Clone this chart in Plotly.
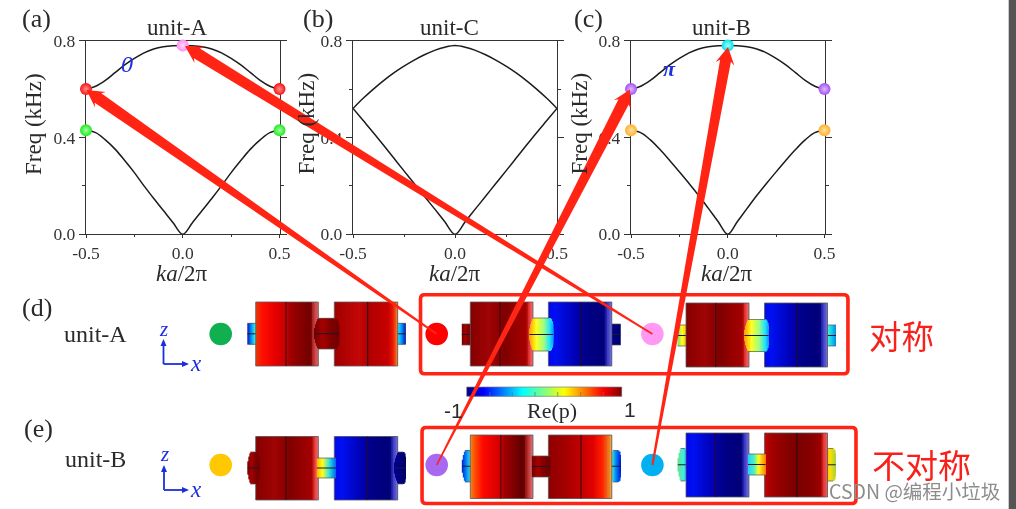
import plotly.graph_objects as go

W, H = 1016, 509

# ---------- data ----------
ka = [-0.5, -0.45, -0.4, -0.35, -0.3, -0.25, -0.2, -0.15, -0.1, -0.05, 0.0,
      0.05, 0.1, 0.15, 0.2, 0.25, 0.3, 0.35, 0.4, 0.45, 0.5]
a_upper = [0.60, 0.612, 0.636, 0.668, 0.70, 0.727, 0.75, 0.766, 0.775, 0.779, 0.78,
           0.779, 0.775, 0.766, 0.75, 0.727, 0.70, 0.668, 0.636, 0.612, 0.60]
a_lower = [0.43, 0.42, 0.39, 0.352, 0.305, 0.255, 0.20, 0.148, 0.098, 0.048, 0.0,
           0.048, 0.098, 0.148, 0.20, 0.255, 0.305, 0.352, 0.39, 0.42, 0.43]
b_upper = [0.52, 0.562, 0.60, 0.635, 0.667, 0.695, 0.72, 0.742, 0.76, 0.773, 0.78,
           0.773, 0.76, 0.742, 0.72, 0.695, 0.667, 0.635, 0.60, 0.562, 0.52]
b_lower = [0.52, 0.47, 0.42, 0.368, 0.315, 0.262, 0.21, 0.157, 0.105, 0.052, 0.0,
           0.052, 0.105, 0.157, 0.21, 0.262, 0.315, 0.368, 0.42, 0.47, 0.52]
c_upper = [0.60, 0.612, 0.636, 0.668, 0.70, 0.727, 0.75, 0.766, 0.775, 0.779, 0.78,
           0.779, 0.775, 0.766, 0.75, 0.727, 0.70, 0.668, 0.636, 0.612, 0.60]
c_lower = [0.43, 0.42, 0.39, 0.35, 0.305, 0.258, 0.21, 0.16, 0.107, 0.053, 0.0,
           0.053, 0.107, 0.16, 0.21, 0.258, 0.305, 0.35, 0.39, 0.42, 0.43]
dot_x = [-0.5, 0.5, 0.0]
b_tick_vals = [0.0, 0.4, 0.8]
x_tick_vals = [-0.5, 0.0, 0.5]
x_tick_text = ["-0.5", "0.0", "0.5"]
y_tick_text = ["0.0", "0.4", "0.8"]
panel_titles = ["unit-A", "unit-C", "unit-B"]

INK = "#333333"
RED = "#ff2414"
BLUEINK = "#1c2de0"
SERIF = "Liberation Serif"
CJK = "Noto Sans CJK SC"


def px(x):
    return x / W


def py(y):
    return 1 - y / H


fig = go.Figure()
shapes = []
notes = []

# ---------- panels ----------
panels = [
    (86.0, 279.5, a_upper, a_lower, ("#f81010", "#22e822", "#ff8cf0"), ("#ff9090", "#a0ffa0", "#ffd8ff")),
    (353.0, 557.0, b_upper, b_lower, None, None),
    (631.0, 824.5, c_upper, c_lower, ("#a452f2", "#ffb030", "#00e2ee"), ("#dcb8ff", "#ffe0a0", "#a0ffff")),
]
layout_axes = {}
for i, (x0, x1, up, lo, cols, cores) in enumerate(panels):
    n = "" if i == 0 else str(i + 1)
    xa, ya = "x" + n, "y" + n
    for curve in (up, lo):
        fig.add_trace(go.Scatter(x=ka, y=curve, xaxis=xa, yaxis=ya, mode="lines",
                                 line=dict(color="#1c1c1c", width=1.5, shape="spline", smoothing=1.0),
                                 showlegend=False, hoverinfo="skip"))
    if cols:
        vals = [(dot_x[:2], up[0], 0), (dot_x[:2], lo[0], 1), ([dot_x[2]], up[10], 2)]
        for xs, v, k in vals:
            fig.add_trace(go.Scatter(x=xs, y=[v] * len(xs), xaxis=xa, yaxis=ya, mode="markers",
                                     marker=dict(size=12, color=cols[k], line=dict(width=0),
                                                 gradient=dict(type="radial", color=cores[k])),
                                     cliponaxis=False, showlegend=False, hoverinfo="skip"))
    tick_font = dict(family=SERIF, size=17.5, color=INK)
    layout_axes["xaxis" + n] = dict(domain=[px(x0), px(x1)], range=[-0.5, 0.5], anchor=ya, layer="below traces",
                                    tickvals=x_tick_vals, ticktext=x_tick_text, ticks="outside",
                                    ticklen=3, tickwidth=1.2, tickcolor=INK, linecolor=INK, linewidth=1.3,
                                    mirror=True, showgrid=False, zeroline=False, tickfont=tick_font,
                                    minor=dict(tickvals=[-0.25, 0.25], ticks="outside", ticklen=2,
                                               tickcolor=INK, showgrid=False))
    layout_axes["yaxis" + n] = dict(domain=[py(234.3), py(40.7)], range=[0, 0.8], anchor=xa, layer="below traces",
                                    tickvals=b_tick_vals, ticktext=y_tick_text, ticks="outside",
                                    ticklen=6, tickwidth=1.2, tickcolor=INK, linecolor=INK, linewidth=1.3,
                                    mirror="ticks", showgrid=False, zeroline=False, tickfont=tick_font,
                                    minor=dict(tickvals=[0.2, 0.6], ticks="outside", ticklen=3,
                                               tickcolor=INK, showgrid=False))


def note(text, x, y, size, color="#2a2a2a", family=SERIF, angle=0):
    notes.append(dict(text=text, x=px(x), y=py(y), xref="paper", yref="paper", showarrow=False,
                      xanchor="center", yanchor="middle", textangle=angle, borderpad=0,
                      font=dict(family=family, size=size, color=color)))


for label, xc in zip(panel_titles, (176.5, 449, 721)):
    note(label, xc, 27, 23)
for label, xc in zip(("(a)", "(b)", "(c)"), (36.5, 318, 588)):
    note(label, xc, 18, 26)
for xc in (33, 305.5, 578.5):
    note("Freq (kHz)", xc, 124, 23, angle=-90)
for xc in (182, 455, 727):
    note("<i>ka</i>/2π", xc, 273.5, 23)
note("(d)", 37, 307, 26)
note("(e)", 38, 428, 26)
note("unit-A", 95, 334, 24)
note("unit-B", 95, 459, 24)
note("<i>0</i>", 126.5, 64, 24, color="#2030e8")
note("<b><i>π</i></b>", 669, 68, 22, color="#2030e8")
for (xz, yz, xx, yx) in ((163.5, 329, 196, 363), (164, 454, 196, 489)):
    note("<i>z</i>", xz, yz, 21, color=BLUEINK)
    note("<i>x</i>", xx, yx, 23, color=BLUEINK)
note("-1", 453, 410, 21, family="Liberation Sans")
note("1", 630, 409, 21, family="Liberation Sans")
note("Re(p)", 552, 410, 22)
note("对称", 901.7, 334, 32.5, color="#f8201a", family=CJK)
note("不对称", 921, 464, 33, color="#f8201a", family=CJK)
note("CSDN @编程小垃圾", 914.5, 490.5, 19.5, color="#8c8c8c", family=CJK)


# ---------- drawing helpers (pixel geometry -> paper) ----------
def hexrgb(c):
    c = c.lstrip("#")
    return tuple(int(c[j:j + 2], 16) for j in (0, 2, 4))


def mix(stops, t):
    for (t0, c0), (t1, c1) in zip(stops, stops[1:]):
        if t <= t1:
            f = 0 if t1 == t0 else (t - t0) / (t1 - t0)
            a, b = hexrgb(c0), hexrgb(c1)
            return "rgb(%d,%d,%d)" % tuple(round(a[j] + (b[j] - a[j]) * f) for j in range(3))
    return stops[-1][1]


def poly(points, color):
    d = "M" + "L".join("%.5f,%.5f" % (px(x), py(y)) for x, y in points) + "Z"
    shapes.append(dict(type="path", path=d, xref="paper", yref="paper", fillcolor=color,
                       line=dict(width=0)))


def line(x0, y0, x1, y1, color, width):
    shapes.append(dict(type="line", x0=px(x0), y0=py(y0), x1=px(x1), y1=py(y1), xref="paper", yref="paper",
                       line=dict(color=color, width=width)))


def circle(cx, cy, r, color):
    shapes.append(dict(type="circle", x0=px(cx - r), x1=px(cx + r), y0=py(cy - r), y1=py(cy + r),
                       xref="paper", yref="paper", fillcolor=color, line=dict(width=0)))


def strips(x0, x1, y0, y1, stops, bl=0.0, br=0.0, step=1.6):
    """Shaded body as overlapping vertical bands; bl/br give a rounded bulge at either end."""
    ym = (y0 + y1) / 2
    h = (y1 - y0) / 2
    n = max(3, int((x1 - x0) / step))
    dx = (x1 - x0) / n
    for k in range(n):
        xa = x0 + k * dx
        xc = xa + dx / 2
        s = 1.0
        if bl and xc - x0 < bl:
            s = ((xc - x0) / bl) ** 0.5
        if br and x1 - xc < br:
            s = ((x1 - xc) / br) ** 0.5
        t = (xc - x0) / (x1 - x0)
        xb = min(x1, xa + dx + 1.6)
        poly([(xa, ym - h * s), (xb, ym - h * s), (xb, ym + h * s), (xa, ym + h * s)], mix(stops, t))


def body(x0, x1, y0, y1, stops, seam):
    strips(x0, x1, y0, y1, stops)
    shapes.append(dict(type="rect", x0=px(x0), x1=px(x1), y0=py(y0), y1=py(y1), xref="paper", yref="paper",
                       line=dict(color="#5a5a5a", width=0.8)))
    line(seam, y0, seam, y1, "#2a0a10", 1.0)


def barrel(x0, x1, y0, y1, stops, bl, br):
    strips(x0, x1, y0, y1, stops, bl, br, step=1.0)
    ym = (y0 + y1) / 2
    line(x0 + bl, y0, x1 - br, y0, "#555555", 0.7)
    line(x0 + bl, y1, x1 - br, y1, "#555555", 0.7)
    line(x0 + bl * 0.1, ym, x1 - br * 0.1, ym, "#1a1a2a", 1.0)


def P(*a):
    return [(i / (len(a) - 1), c) for i, c in enumerate(a)]


# palettes (left to right shading)
DARK = [(0, "#860000"), (.3, "#a00404"), (.48, "#8a0000"), (.55, "#800000"), (.75, "#980000"),
        (.9, "#a60000"), (.93, "#e03030"), (1, "#f87070")]
DARK2 = [(0, "#c80404"), (.1, "#a60000"), (.3, "#8e0000"), (.5, "#7a0000"), (.75, "#880000"),
         (.9, "#a00000"), (.93, "#e03030"), (1, "#f06060")]
RED1 = [(0, "#e83a08"), (.1, "#ff1000"), (.3, "#e80000"), (.48, "#c80000"), (.55, "#a00000"), (.88, "#700000"),
        (.92, "#c03030"), (1, "#e06868")]
RED2 = [(0, "#a00000"), (.4, "#c40808"), (.55, "#b00000"), (.85, "#c80000"), (.93, "#f01c00"), (1, "#e89040")]
RED3 = [(0, "#e88a24"), (.07, "#ff5000"), (.2, "#ff0800"), (.48, "#d00000"), (.55, "#a00000"), (.85, "#5c0000"),
        (.9, "#b02020"), (1, "#e07878")]
RED4 = [(0, "#8e0000"), (.3, "#a80000"), (.5, "#c00000"), (.7, "#e00000"), (.85, "#ff2000"), (.96, "#e88420"),
        (1, "#f0b060")]
BLUE = [(0, "#0008f0"), (.12, "#0010f0"), (.45, "#0000b0"), (.6, "#000088"), (.88, "#000078"), (.92, "#3030c0"),
        (1, "#7474e0")]
DR = P("#700000", "#a80000", "#800000", "#700000")
NK_HOT = [(0, "#ff9a00"), (.3, "#ffff20"), (.6, "#a0ff80"), (.85, "#20e0ff"), (1, "#0090ff")]
NK_E = [(0, "#20d0ff"), (.35, "#50f0c0"), (.6, "#ffff20"), (1, "#ff8000")]
NK_E2 = [(0, "#ffb000"), (.3, "#ffff20"), (.65, "#30e0e0"), (1, "#0060f0")]
CAP_BL = [(0, "#1010b0"), (.4, "#0090ff"), (.75, "#30f0e0"), (1, "#90ff80")]
CAP_BR = [(0, "#70ff80"), (.3, "#20d0ff"), (.6, "#0090ff"), (1, "#1010a0")]
CAP_BL2 = [(0, "#0020d0"), (.4, "#0090ff"), (.8, "#60f0c0"), (1, "#ffe040")]
CAP_BR2 = [(0, "#ffe040"), (.25, "#50f0c0"), (.55, "#0090ff"), (1, "#0010d0")]
CAP_DARKB = [(0, "#000090"), (.5, "#000080"), (1, "#000060")]
CAP_YG = [(0, "#70e070"), (.45, "#ffff20"), (1, "#ffb000")]
CAP_CB = [(0, "#80ff80"), (.4, "#20e0f0"), (1, "#0090e0")]
CAP_CG = [(0, "#70e080"), (.5, "#40f0e0"), (1, "#20a0ff")]
CAP_YO = [(0, "#ff9000"), (.5, "#ffe000"), (1, "#a0d040")]

ROW_D = (302, 366)
ROW_E = (436.5, 500)

# row d, first block
barrel(247.3, 257.5, 323.3, 344.3, CAP_BL, 0, 0)
barrel(396, 405.7, 323.3, 344.3, CAP_BR, 0, 0)
body(255.7, 318.3, *ROW_D, RED1, 286)
body(334.3, 397.7, *ROW_D, RED2, 367.7)
barrel(314, 339.3, 318.3, 349, DR, 4, 4)
# row e, first block
body(255.7, 318.3, *ROW_E, DARK, 286)
body(334.3, 397.7, *ROW_E, BLUE, 367.7)
barrel(247.3, 259.5, 452, 484, DR, 3, 4)
barrel(394, 406, 452, 484, CAP_DARKB, 4, 3)
barrel(316.7, 336, 458, 478, NK_E2, 0, 0)

# row d, second block
barrel(461.8, 472, 324, 345, DR, 0, 0)
barrel(611, 620.5, 324, 345, CAP_DARKB, 0, 0)
body(470.3, 533, *ROW_D, DARK, 500)
body(548.4, 611.8, *ROW_D, BLUE, 581)
barrel(529, 553.5, 318, 351, NK_HOT, 4, 4)
# row d, third block
barrel(677.5, 687.5, 325, 346, CAP_YG, 0, 0)
barrel(826, 836, 325, 346, CAP_CB, 0, 0)
body(686, 749, 303, 367, DARK, 715.8)
body(764.5, 827.5, 303, 367, BLUE, 797)
barrel(744, 769, 319.5, 351.5, NK_HOT, 4, 4)

# row e, second block
barrel(461.8, 474, 450.5, 482, CAP_BL2, 3, 4)
barrel(608.7, 621, 450.5, 482, CAP_BR2, 4, 3)
body(470.3, 533, 435, 498.5, RED3, 500.8)
body(548.4, 611.8, 435, 498.5, RED4, 581)
barrel(531.8, 550.3, 456, 477, DR, 0, 0)
# row e, third block
barrel(677.5, 689, 448.5, 481, CAP_CG, 3, 4)
barrel(824, 836, 448.5, 481, CAP_YO, 4, 3)
body(686, 749, 433, 497, BLUE, 715.8)
body(764.5, 827.5, 433, 497, DARK2, 797)
barrel(748, 765.6, 454, 475, NK_E, 0, 0)

# colour bar
JET = [(0, "#00007f"), (.11, "#0000ff"), (.36, "#00ffff"), (.5, "#80ff80"), (.63, "#ffff00"), (.88, "#ff0000"), (1, "#7f0000")]
strips(466.7, 621.7, 387, 396.3, JET, step=1.4)
shapes.append(dict(type="rect", x0=px(466.7), x1=px(621.7), y0=py(387), y1=py(396.3), xref="paper", yref="paper",
                   line=dict(color="#808080", width=0.7)))
for xt in (490, 512.3, 535, 557.7, 580.7, 603.3):
    line(xt, 392, xt, 396.3, "#707070", 0.7)

# mode dots
for cx, cy, c in ((220.7, 334, "#10b050"), (436.7, 334, "#ff0000"), (652.4, 334, "#ff99f4"),
                  (220.7, 465, "#ffc800"), (436.7, 465, "#a868f0"), (652.4, 465, "#00b0f0")):
    circle(cx, cy, 11.3, c)

# coordinate triads
for (xc, yc, ytop, xend) in ((163.5, 364, 340, 188), (164, 490, 466, 188)):
    line(xc, yc, xc, ytop + 4, BLUEINK, 1.8)
    line(xc, yc, xend - 4, yc, BLUEINK, 1.8)
    poly([(xc, ytop - 1), (xc - 3, ytop + 6), (xc + 3, ytop + 6)], BLUEINK)
    poly([(xend + 1, yc), (xend - 6, yc - 3), (xend - 6, yc + 3)], BLUEINK)


# red boxes
def rbox(x0, y0, x1, y1, r=4):
    d = ("M%.4f,%.4f L%.4f,%.4f Q%.4f,%.4f %.4f,%.4f L%.4f,%.4f Q%.4f,%.4f %.4f,%.4f "
         "L%.4f,%.4f Q%.4f,%.4f %.4f,%.4f L%.4f,%.4f Q%.4f,%.4f %.4f,%.4f Z") % (
        px(x0 + r), py(y0), px(x1 - r), py(y0), px(x1), py(y0), px(x1), py(y0 + r),
        px(x1), py(y1 - r), px(x1), py(y1), px(x1 - r), py(y1),
        px(x0 + r), py(y1), px(x0), py(y1), px(x0), py(y1 - r),
        px(x0), py(y0 + r), px(x0), py(y0), px(x0 + r), py(y0))
    shapes.append(dict(type="path", path=d, xref="paper", yref="paper", line=dict(color=RED, width=3.6)))


rbox(420.5, 294.8, 848, 373.7)
rbox(422, 427.5, 856, 503.5)


# tapered call-out arrows
def arrow(tx, ty, hx, hy, w0=1.6, w1=11.5, head=17.0, neck=14.0, wing=19.0):
    L = ((hx - tx) ** 2 + (hy - ty) ** 2) ** 0.5
    ux, uy = (hx - tx) / L, (hy - ty) / L
    nx, ny = -uy, ux
    bx, by = hx - ux * neck, hy - uy * neck
    wx, wy = hx - ux * head, hy - uy * head
    poly([(tx + nx * w0 / 2, ty + ny * w0 / 2),
          (bx + nx * w1 / 2, by + ny * w1 / 2),
          (wx + nx * wing / 2, wy + ny * wing / 2),
          (hx, hy),
          (wx - nx * wing / 2, wy - ny * wing / 2),
          (bx - nx * w1 / 2, by - ny * w1 / 2),
          (tx - nx * w0 / 2, ty - ny * w0 / 2)], RED)


arrow(436.7, 334, 86.5, 90)
arrow(652.4, 334, 185, 46)
arrow(436.7, 465, 630, 89.5)
arrow(652.4, 465, 728, 47, w0=2.0, w1=11.0)

# grey strip on the right edge
shapes.append(dict(type="rect", x0=px(1008.7), x1=1, y0=0, y1=1, xref="paper", yref="paper",
                   fillcolor="#555555", line=dict(width=0)))

fig.update_layout(width=W, height=H, autosize=False,
                  margin=dict(l=0, r=0, t=0, b=0, pad=0, autoexpand=False),
                  paper_bgcolor="white", plot_bgcolor="rgba(0,0,0,0)", showlegend=False,
                  shapes=shapes, annotations=notes, **layout_axes)
fig.write_html("out.html", config=dict(displayModeBar=False, responsive=False),
               post_script="document.body.style.margin='0';document.body.style.overflow='hidden';"
                           "document.querySelector('.plotly-graph-div').style.filter='blur(0.45px)';")
